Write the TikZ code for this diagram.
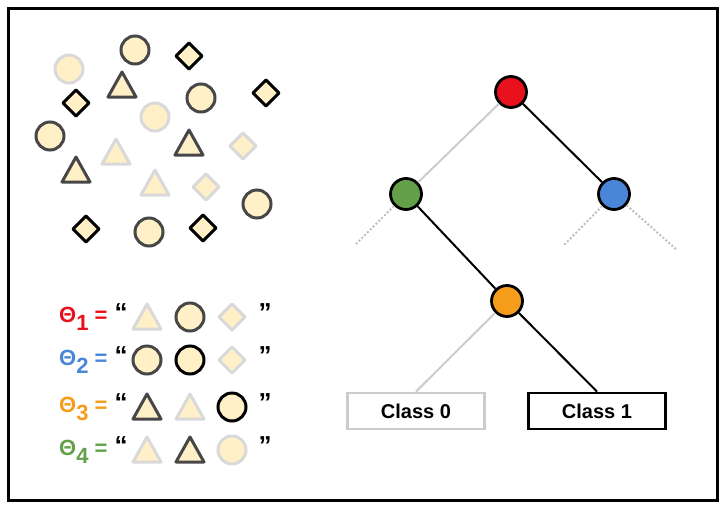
\documentclass[tikz,border=0pt]{standalone}
\usepackage{fontspec}
\setmainfont{Liberation Sans}
\begin{document}
\begin{tikzpicture}[x=1pt,y=-1pt,
  fillc/.style={fill={rgb,255:red,255;green,240;blue,200}},
  dk/.style={draw=black!72,line width=3pt,fillc},
  bk/.style={draw=black,line width=3pt,fillc},
  lt/.style={draw=black!15,line width=3pt,fillc},
  tn/.style={circle,line width=2.8pt,draw=black,minimum size=31pt,inner sep=0pt},
  lbl/.style={font=\bfseries\fontsize{22}{24}\selectfont},
  q/.style={font=\bfseries\fontsize{26}{26}\selectfont},
  box/.style={line width=2.8pt,minimum width=137pt,minimum height=36pt,font=\bfseries\fontsize{20}{22}\selectfont},
  edge/.style={line width=2pt}]
\useasboundingbox (0,0) rectangle (725,509);
\draw[line width=3pt] (8,8) rectangle (717,500);
\def\C#1#2#3{\draw[#1] (#2,#3) circle (14);}
\def\T#1#2#3{\draw[#1,line join=round] (#2-14,#3+12) -- (#2,#3-13) -- (#2+14,#3+12) -- cycle;}
\def\D#1#2#3{\draw[#1,line join=round] (#2-13,#3) -- (#2,#3-13) -- (#2+13,#3) -- (#2,#3+13) -- cycle;}
\C{dk}{135}{50} \D{bk}{189}{56} \C{lt}{69}{69} \T{dk}{122}{85}
\D{bk}{76}{103} \C{dk}{201}{98} \D{bk}{266}{93} \C{lt}{155}{117}
\C{dk}{50}{136} \T{lt}{116}{152} \T{dk}{189}{143} \D{lt}{243}{146}
\T{dk}{76}{170} \T{lt}{155}{183} \D{lt}{206}{187} \C{dk}{257}{204}
\D{bk}{86}{229} \C{dk}{149}{232} \D{bk}{203}{228}
% legend
\definecolor{cr}{HTML}{E8101A}\definecolor{cb}{HTML}{4A86D8}
\definecolor{co}{HTML}{F59C1A}\definecolor{cg}{HTML}{64A04A}
\foreach \y/\c/\n in {317/cr/1,360/cb/2,407/co/3,450/cg/4}{
  \node[lbl,text=\c,anchor=east] (th\n) at (111,\y+2) {Θ\raisebox{-8pt}{\n} =};
  \node[q] (oq\n) at (121,\y-4) {“};
  \node[q] (cq\n) at (265,\y-4) {”};
}
\T{lt}{147}{317} \C{dk}{190}{317} \D{lt}{232}{317}
\C{dk}{147}{360} \C{bk}{190}{360} \D{lt}{232}{360}
\T{dk}{147}{407} \T{lt}{190}{407} \C{bk}{232}{407}
\T{lt}{147}{450} \T{dk}{190}{450} \C{lt}{232}{450}
% tree
\coordinate (gl) at (356,244); \coordinate (bl) at (563,246); \coordinate (br) at (677,250);
\node[tn,fill=cr] (r) at (511,92) {};
\node[tn,fill=cg] (g) at (406,194) {};
\node[tn,fill=cb] (b) at (614,194) {};
\node[tn,fill=co] (o) at (507,301) {};
\node[box,draw=black!20] (c0) at (416,411) {Class 0};
\node[box,draw=black] (c1) at (597,411) {Class 1};
\draw[edge,black!20] (r) -- (g);
\draw[edge,black] (r) -- (b);
\draw[edge,black] (g) -- (o);
\draw[edge,black!25,dotted] (g) -- (gl);
\draw[edge,black!25,dotted] (b) -- (bl);
\draw[edge,black!25,dotted] (b) -- (br);
\draw[edge,black!20] (o) -- (c0.north);
\draw[edge,black] (o) -- (c1.north);
\end{tikzpicture}
\end{document}
